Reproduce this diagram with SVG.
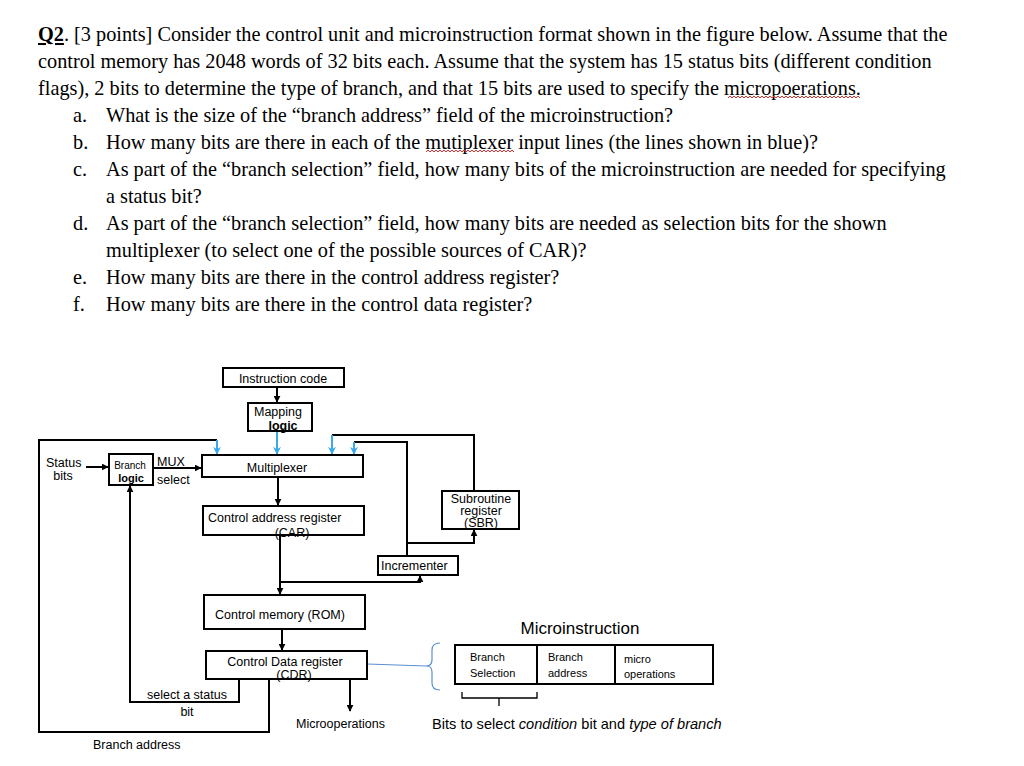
<svg xmlns="http://www.w3.org/2000/svg" width="1024" height="766" viewBox="0 0 1024 766">
<defs>
<marker id="ab" viewBox="0 0 10 10" refX="9" refY="5" markerWidth="7" markerHeight="7" markerUnits="userSpaceOnUse" orient="auto"><path d="M0,0 L10,5 L0,10 z" fill="#000"/></marker>
<marker id="abl" viewBox="0 0 10 10" refX="9" refY="5" markerWidth="8" markerHeight="8" markerUnits="userSpaceOnUse" orient="auto"><path d="M0,0 L10,5 L0,10 L3,5 z" fill="#3ba9ee"/></marker>
</defs>
<style>
.q{font-family:"Liberation Serif","Times New Roman",serif;font-size:20.3px;fill:#000}
.t{font-family:"Liberation Sans",Arial,sans-serif;font-size:12.5px;fill:#000}
.s{font-family:"Liberation Sans",Arial,sans-serif;font-size:11px;fill:#000}
.big{font-size:17px}
.tiny{font-size:10px}
.lg{font-size:11px;font-weight:bold}
.bits{font-size:14.6px}
.box{fill:#fff;stroke:#000;stroke-width:2}
.w{fill:none;stroke:#000;stroke-width:2}
.bl{fill:none;stroke:#3ba9ee;stroke-width:2}
.thin{fill:none;stroke:#000;stroke-width:1.3}
.wavy{fill:none;stroke:#e03030;stroke-width:1}
</style>
<rect width="1024" height="766" fill="#fff"/>
<g id="question">
<text class="q" x="38" y="41"><tspan font-weight="bold" text-decoration="underline">Q2</tspan>. [3 points] Consider the control unit and microinstruction format shown in the figure below. Assume that the</text>
<text class="q" x="38" y="68">control memory has 2048 words of 32 bits each. Assume that the system has 15 status bits (different condition</text>
<text class="q" x="38" y="95">flags), 2 bits to determine the type of branch, and that 15 bits are used to specify the micropoerations.</text>
<text class="q" x="73" y="122">a.</text><text class="q" x="106" y="122">What is the size of the “branch address” field of the microinstruction?</text>
<text class="q" x="73" y="149">b.</text><text class="q" x="106" y="149">How many bits are there in each of the mutiplexer input lines (the lines shown in blue)?</text>
<text class="q" x="73" y="176">c.</text><text class="q" x="106" y="176">As part of the “branch selection” field, how many bits of the microinstruction are needed for specifying</text>
<text class="q" x="106" y="203">a status bit?</text>
<text class="q" x="73" y="230">d.</text><text class="q" x="106" y="230">As part of the “branch selection” field, how many bits are needed as selection bits for the shown</text>
<text class="q" x="106" y="257">multiplexer (to select one of the possible sources of CAR)?</text>
<text class="q" x="73" y="284">e.</text><text class="q" x="106" y="284">How many bits are there in the control address register?</text>
<text class="q" x="73" y="311">f.</text><text class="q" x="106" y="311">How many bits are there in the control data register?</text>
<path class="wavy" d="M728,98 l2,-2 l2,2 l2,-2 l2,2 l2,-2 l2,2 l2,-2 l2,2 l2,-2 l2,2 l2,-2 l2,2 l2,-2 l2,2 l2,-2 l2,2 l2,-2 l2,2 l2,-2 l2,2 l2,-2 l2,2 l2,-2 l2,2 l2,-2 l2,2 l2,-2 l2,2 l2,-2 l2,2 l2,-2 l2,2 l2,-2 l2,2 l2,-2 l2,2 l2,-2 l2,2 l2,-2 l2,2 l2,-2 l2,2 l2,-2 l2,2 l2,-2 l2,2 l2,-2 l2,2 l2,-2 l2,2 l2,-2 l2,2 l2,-2 l2,2 l2,-2 l2,2 l2,-2 l2,2 l2,-2 l2,2 l2,-2 l2,2 l2,-2 l2,2 l2,-2 l2,2"/>
<path class="wavy" d="M426,152 l2,-2 l2,2 l2,-2 l2,2 l2,-2 l2,2 l2,-2 l2,2 l2,-2 l2,2 l2,-2 l2,2 l2,-2 l2,2 l2,-2 l2,2 l2,-2 l2,2 l2,-2 l2,2 l2,-2 l2,2 l2,-2 l2,2 l2,-2 l2,2 l2,-2 l2,2 l2,-2 l2,2 l2,-2 l2,2 l2,-2 l2,2 l2,-2 l2,2 l2,-2 l2,2 l2,-2 l2,2 l2,-2 l2,2 l2,-2 l2,2"/>
</g>
<g id="connectors">
<path class="w" d="M277,387 V402" marker-end="url(#ab)"/>
<path class="bl" d="M277,431 V454" marker-end="url(#abl)"/>
<path class="w" d="M269,679 V732 H39 V440 H217"/>
<path class="bl" d="M217,440 V454" marker-end="url(#abl)"/>
<path class="w" d="M474,491 V435 H332"/>
<path class="bl" d="M332,435 V454" marker-end="url(#abl)"/>
<path class="w" d="M407,556 V442 H354"/>
<path class="bl" d="M354,442 V454" marker-end="url(#abl)"/>
<path class="w" d="M407,543 H474 V530" marker-end="url(#ab)"/>
<path class="w" d="M86,467 H108" marker-end="url(#ab)"/>
<path class="w" d="M153,468 H201" marker-end="url(#ab)"/>
<path class="w" d="M278,477 V505" marker-end="url(#ab)"/>
<path class="w" d="M280,535 V594" marker-end="url(#ab)"/>
<path class="w" d="M280,582 H420 V576" marker-end="url(#ab)"/>
<path class="w" d="M282,629 V650" marker-end="url(#ab)"/>
<path class="w" d="M239,679 V702 H130 V486" marker-end="url(#ab)"/>
<path class="w" d="M350,679 V711" marker-end="url(#ab)"/>
<path d="M367,664 L426,666" fill="none" stroke="#5b8fd0" stroke-width="1.2"/>
<path d="M440,643 Q432,643 432,650 V660 Q432,666 426,666 Q432,666 432,672 V683 Q432,690 440,690" fill="none" stroke="#5b8fd0" stroke-width="1.2"/>
<path class="thin" d="M462,692 V698 H537 V692 M499,698 V706"/>
</g>
<g id="instruction-code"><rect class="box" x="223" y="368" width="121" height="19"/><text class="t" x="283" y="383" text-anchor="middle">Instruction code</text></g>
<g id="mapping-logic"><rect class="box" x="248" y="403" width="64" height="28"/><text class="t" x="254" y="416">Mapping</text><text class="t" x="283" y="430" text-anchor="middle" font-weight="bold">logic</text></g>
<g id="multiplexer"><rect class="box" x="202" y="455" width="161" height="22"/><text class="t" x="277" y="472" text-anchor="middle">Multiplexer</text></g>
<g id="status-bits"><text class="t" x="46" y="467">Status</text><text class="t" x="63" y="480" text-anchor="middle">bits</text></g>
<g id="branch-logic"><rect class="box" x="109" y="454" width="44" height="31"/><text class="t tiny" x="130" y="469" text-anchor="middle">Branch</text><text class="t lg" x="131" y="482" text-anchor="middle">logic</text></g>
<g id="mux-select"><text class="t" x="157" y="466">MUX</text><text class="t" x="157" y="484">select</text></g>
<g id="car"><rect class="box" x="203" y="506" width="161" height="29"/><text class="t" x="208" y="522">Control address register</text><text class="t" x="292" y="537" text-anchor="middle">(CAR)</text></g>
<g id="sbr"><rect class="box" x="442" y="491" width="77" height="38"/><text class="t" x="481" y="503" text-anchor="middle">Subroutine</text><text class="t" x="481" y="515" text-anchor="middle">register</text><text class="t" x="481" y="527" text-anchor="middle">(SBR)</text></g>
<g id="incrementer"><rect class="box" x="378" y="556" width="80" height="19"/><text class="t" x="381" y="570">Incrementer</text></g>
<g id="rom"><rect class="box" x="204" y="595" width="161" height="34"/><text class="t" x="280" y="619" text-anchor="middle">Control memory (ROM)</text></g>
<g id="cdr"><rect class="box" x="206" y="651" width="161" height="28"/><text class="t" x="285" y="666" text-anchor="middle">Control Data register</text><text class="t" x="294" y="679" text-anchor="middle">(CDR)</text></g>
<g id="labels">
<text class="t" x="147" y="699">select a status</text>
<text class="t" x="187" y="716" text-anchor="middle">bit</text>
<text class="t" x="296" y="728">Microoperations</text>
<text class="t" x="93" y="749">Branch address</text>
</g>
<g id="microinstruction">
<text class="t big" x="580" y="634" text-anchor="middle">Microinstruction</text>
<rect class="box" x="455" y="645" width="258" height="39"/>
<path class="w" d="M537,645 V684 M615,645 V684"/>
<text class="s" x="470" y="661">Branch</text><text class="s" x="470" y="677">Selection</text>
<text class="s" x="548" y="661">Branch</text><text class="s" x="548" y="677">address</text>
<text class="s" x="624" y="663">micro</text><text class="s" x="624" y="678">operations</text>
</g>
<g id="bits-label"><text class="t bits" x="432" y="729">Bits to select <tspan font-style="italic">condition</tspan> bit and <tspan font-style="italic">type of branch</tspan></text></g>
</svg>
